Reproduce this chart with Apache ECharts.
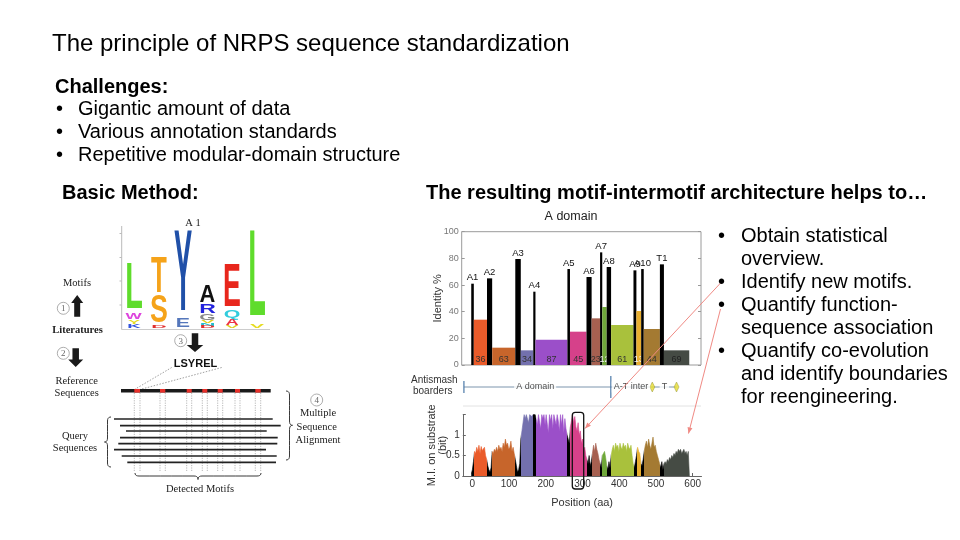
<!DOCTYPE html>
<html><head><meta charset="utf-8">
<script src="https://cdn.jsdelivr.net/npm/echarts@6/dist/echarts.min.js"></script>
<style>html,body{margin:0;padding:0;background:#fff}#c{width:960px;height:540px}</style>
</head><body><div id="c"></div>
<script>
// ---------------- DATA ----------------
const motifNames    = ['A1','A2','A3','A4','A5','A6','A7','A8','A9','A10','T1'];
const motifLengths  = [7, 14, 15, 6, 7, 14, 6, 12, 8, 7, 11];
const motifIdentity = [61, 65, 79.5, 55, 72, 66, 84.5, 73.5, 71, 72, 75.5];
const interLengths  = [36, 63, 34, 87, 45, 23, 12, 61, 13, 44, 69];
const interIdentity = [34, 13, 11, 19, 25, 35, 43.5, 30, 40.5, 27, 11];
const startPosition = -3;
const identityTicks = [0, 20, 40, 60, 80, 100];
const positionTicks = [0, 100, 200, 300, 400, 500, 600];
const miTicks = [0, 0.5, 1];
// M.I. on substrate (bit), sampled every 3 aa from position -3
const miStart = -3, miStep = 3;
const miValues = [
 0.05,0.15,0.35,0.6,0.55,0.7,0.6,0.75,0.55,0.72,0.62,0.6,0.7,0.5,0.4,
 0.25,0.15,0.1,0.2,
 0.6,0.55,0.65,0.6,0.7,0.6,0.75,0.65,0.7,0.6,0.8,0.7,0.9,0.75,0.8,0.65,0.7,0.85,0.6,0.7,0.55,
 0.4,0.25,0.1,0.15,0.3,
 0.9,1.1,1.3,1.5,1.4,1.5,1.5,1.3,1.5,1.5,1.45,1.5,
 1.5,1.5,
 1.5,1.25,1.5,1.5,1.15,1.5,1.4,1.5,1.25,1.5,1.5,1.05,1.5,1.35,1.5,1.15,1.5,1.5,1.25,1.5,1.35,1.1,1.5,1.25,1.5,1.05,1.4,1.15,1.0,
 0.9,0.8,
 1.2,1.35,1.5,1.3,1.45,1.2,1.1,1.3,1.0,1.1,0.8,0.9,0.6,0.7,0.5,
 0.4,0.3,0.5,0.25,0.35,
 0.55,0.75,0.6,0.8,0.65,0.55,0.4,
 0.3,0.2,
 0.5,0.55,0.6,0.45,
 0.25,0.15,0.35,0.2,
 0.5,0.65,0.75,0.6,0.8,0.7,0.75,0.6,0.8,0.7,0.65,0.8,0.7,0.75,0.6,0.8,0.7,0.65,0.75,0.5,0.3,
 0.2,0.35,
 0.5,0.7,0.6,0.55,0.3,
 0.25,0.4,
 0.6,0.75,0.85,0.7,0.9,0.75,0.65,0.8,0.95,0.7,0.75,0.6,0.5,0.4,0.3,
 0.2,0.35,0.15,
 0.3,0.35,0.3,0.4,0.35,0.45,0.4,0.5,0.45,0.55,0.5,0.6,0.55,0.65,0.6,0.65,0.55,0.6,0.65,0.55,0.6,0.5,0.6,0
];
const borderPos    = [-23, 377, 490, 556];
const borderLabels = ['A domain', 'A-T inter', 'T'];
const borderLabelPos = [171, 432, 523];

// ---------------- STYLE ----------------
const interColors = ['#ea5b2a','#c7652b','#7370ae','#9b4fc9','#d6418a','#a66050','#6fa83a','#a9c13c','#e8ae30','#a47a32','#454b44'];
const interLabelColors = ['#333','#333','#333','#333','#333','#333','#f4f4f4','#333','#f4f4f4','#333','#222'];
const SANS = '"Liberation Sans", Arial, sans-serif';
const SERIF = '"Liberation Serif", "Times New Roman", serif';

// ---------------- BUILD ----------------
const segs = [];
let pos = startPosition;
for (let i = 0; i < motifNames.length; i++) {
  segs.push([pos, pos + motifLengths[i], motifIdentity[i], i, 0]);
  pos += motifLengths[i];
  segs.push([pos, pos + interLengths[i], interIdentity[i], i, 1]);
  pos += interLengths[i];
}
const miData = miValues.map((v, i) => [miStart + i * miStep, v]);
const pieces = segs.map((s, k) => {
  const p = { gte: s[0], color: s[4] ? interColors[s[3]] : '#000' };
  if (k === segs.length - 1) p.lte = s[1] + 5; else p.lt = s[1];
  return p;
});

function T(x, y, text, size, o) {
  o = o || {};
  const al = o.align || 'left';
  return { type: 'text', x: x, y: y, z: 20, silent: true,
    style: { text: text, fill: o.color || '#000',
      font: (o.bold ? 'bold ' : '') + size + 'px ' + (o.family || SANS),
      align: al, textAlign: al, verticalAlign: 'middle', textVerticalAlign: 'middle' } };
}
const inkW = { L: 52, T: 58, S: 58, Y: 66, A: 71, R: 63, G: 67, E: 56, Q: 70, W: 93, K: 64, D: 61, V: 66, N: 60 };
function letter(ch, cx, top, bottom, w, color) {
  const sy = (bottom - top) / 71.6, sx = w / inkW[ch];
  return { type: 'text', x: cx, y: (top + bottom) / 2 + 1.15 * sy, scaleX: sx, scaleY: sy, z: 15, silent: true,
    style: { text: ch, fill: color, font: 'bold 100px ' + SANS, align: 'center', textAlign: 'center', verticalAlign: 'middle', textVerticalAlign: 'middle' } };
}
function L(x1, y1, x2, y2, color, w, dash) {
  return { type: 'line', z: 12, silent: true, shape: { x1, y1, x2, y2 }, style: { stroke: color, lineWidth: w || 1, lineDash: dash || null } };
}
function arrowHead(x1, y1, x2, y2, color) {
  const dx = x2 - x1, dy = y2 - y1, len = Math.hypot(dx, dy), ux = dx / len, uy = dy / len;
  const bx = x2 - ux * 6, by = y2 - uy * 6;
  return { type: 'polygon', z: 12, silent: true, shape: { points: [[x2, y2], [bx - uy * 2.5, by + ux * 2.5], [bx + uy * 2.5, by - ux * 2.5]] }, style: { fill: color } };
}
function circNum(x, y, n) {
  return [{ type: 'circle', z: 14, silent: true, shape: { cx: x, cy: y, r: 6 }, style: { fill: '#fff', stroke: '#999', lineWidth: 0.8 } },
          T(x, y + 0.5, String(n), 9, { align: 'center', color: '#666', family: SERIF })];
}
function blockArrow(cx, yTop, yBot, up, shaftW, headW, headH) {
  let pts;
  if (up) pts = [[cx, yTop], [cx + headW / 2, yTop + headH], [cx + shaftW / 2, yTop + headH], [cx + shaftW / 2, yBot], [cx - shaftW / 2, yBot], [cx - shaftW / 2, yTop + headH], [cx - headW / 2, yTop + headH]];
  else pts = [[cx, yBot], [cx + headW / 2, yBot - headH], [cx + shaftW / 2, yBot - headH], [cx + shaftW / 2, yTop], [cx - shaftW / 2, yTop], [cx - shaftW / 2, yBot - headH], [cx - headW / 2, yBot - headH]];
  return { type: 'polygon', z: 12, silent: true, shape: { points: pts }, style: { fill: '#1a1a1a' } };
}
function qpts(p0, c, p1, out) {
  for (let t = 0; t <= 1.0001; t += 0.2) {
    const a = (1 - t) * (1 - t), b = 2 * (1 - t) * t, d = t * t;
    out.push([a * p0[0] + b * c[0] + d * p1[0], a * p0[1] + b * c[1] + d * p1[1]]);
  }
}
function brace(segments) {
  const pts = [];
  segments.forEach(s => qpts(s[0], s[1], s[2], pts));
  return { type: 'polyline', z: 12, silent: true, shape: { points: pts }, style: { fill: null, stroke: '#222', lineWidth: 0.9 } };
}

const G = [];
// slide texts
G.push(T(52, 44, 'The principle of NRPS sequence standardization', 24));
G.push(T(55, 87, 'Challenges:', 20, { bold: true }));
['Gigantic amount of data', 'Various annotation standards', 'Repetitive modular-domain structure'].forEach((s, i) => {
  G.push(T(56, 109 + 23 * i, '•', 20)); G.push(T(78, 109 + 23 * i, s, 20));
});
G.push(T(62, 193, 'Basic Method:', 20, { bold: true }));
G.push(T(426, 193, 'The resulting motif-intermotif architecture helps to…', 20, { bold: true }));
const rightLines = [['•', 'Obtain statistical'], ['', 'overview.'], ['•', 'Identify new motifs.'], ['•', 'Quantify function-'], ['', 'sequence association'], ['•', 'Quantify co-evolution'], ['', 'and identify boundaries'], ['', 'for reengineering.']];
rightLines.forEach((r, i) => { if (r[0]) G.push(T(718, 236 + 23 * i, '•', 20)); G.push(T(741, 236 + 23 * i, r[1], 20)); });

// chart decorations
G.push(T(571, 217, 'A domain', 12.5, { align: 'center', color: '#222' }));
G.push(T(411, 380, 'Antismash', 10, { color: '#333' }));
G.push(T(413, 391.5, 'boarders', 10, { color: '#333' }));
G.push(L(463, 406, 701, 406, '#e2e2e2', 1));
G.push({ type: 'rect', z: 13, silent: true, shape: { x: 572.3, y: 412.3, width: 11.4, height: 76.7, r: 3 }, style: { fill: null, stroke: '#111', lineWidth: 1.3 } });
const red = '#f08a84';
G.push(L(721.5, 282, 585, 428.5, red, 1)); G.push(arrowHead(721.5, 282, 585, 428.5, red));
G.push(L(720.5, 309, 688.5, 433.5, red, 1)); G.push(arrowHead(720.5, 309, 688.5, 433.5, red));

// left diagram: sequence logo
G.push(T(193, 223, 'A 1', 10.5, { align: 'center', family: SERIF, color: '#222' }));
G.push(L(121.7, 226, 121.7, 329.5, '#bbb', 1));
G.push(L(121.7, 329.5, 270, 329.5, '#ccc', 1));
[233.5, 257.5, 281, 305].forEach(y => G.push(L(119.5, y, 121.7, y, '#bbb', 1)));
[
 ['L', 134, 266, 313, 15, '#5fdc2c'], ['W', 133.5, 314, 320, 16, '#dd44dd'], ['Y', 134, 320.5, 324, 12, '#e6dc22'], ['K', 134, 324.5, 328, 12, '#3355dd'],
 ['T', 159, 260, 296, 15, '#f5a31a'], ['S', 159, 297, 325, 15.5, '#f5a31a'], ['D', 159, 325.5, 328, 13, '#e03030'],
 ['Y', 183, 236, 318, 18, '#2050a8'], ['E', 183, 318.5, 327.5, 12, '#5577bb'],
 ['A', 207.5, 287, 304, 15.5, '#111'], ['R', 207.5, 304.5, 313.5, 14.5, '#2222dd'], ['G', 207.5, 314, 320.5, 14, '#888'],
 ['V', 207.5, 321, 323.5, 13, '#e0d020'], ['N', 207.5, 324, 326, 13, '#20c0d0'], ['D', 207.5, 326.3, 328.3, 13, '#e03030'],
 ['E', 232, 266, 310, 15, '#e8261c'], ['Q', 232, 310.5, 318.5, 15, '#33ccdd'], ['A', 232, 319, 326, 13, '#ee3344'], ['V', 232, 326.5, 328.5, 13, '#e0d020'],
 ['L', 257, 236.7, 324, 15, '#5fdc2c'], ['V', 257, 324.5, 328, 14, '#e6dc22']
].forEach(a => G.push(letter(a[0], a[1], a[2], a[3], a[4], a[5])));

G.push(T(77, 283.5, 'Motifs', 10.5, { align: 'center', family: SERIF, color: '#222' }));
G.push(blockArrow(77.2, 295, 316.7, true, 6, 12, 8));
G.push(T(77.5, 330.5, 'Literatures', 10.5, { align: 'center', family: SERIF, bold: true, color: '#222' }));
G.push(blockArrow(75.7, 348.3, 367, false, 6.5, 15, 7.5));
G.push(T(76.7, 381.7, 'Reference', 10.5, { align: 'center', family: SERIF, color: '#222' }));
G.push(T(76.7, 393.5, 'Sequences', 10.5, { align: 'center', family: SERIF, color: '#222' }));
G.push(T(75, 436, 'Query', 10.5, { align: 'center', family: SERIF, color: '#222' }));
G.push(T(75, 448.5, 'Sequences', 10.5, { align: 'center', family: SERIF, color: '#222' }));
G.push(blockArrow(195, 333.3, 352, false, 6.5, 16.5, 7));
G.push(T(195.5, 363.5, 'LSYREL', 11, { align: 'center', bold: true, color: '#111' }));
circNum(63.3, 308.3, 1).forEach(e => G.push(e));
circNum(63.3, 353.3, 2).forEach(e => G.push(e));
circNum(180.7, 340.7, 3).forEach(e => G.push(e));
circNum(316.7, 400, 4).forEach(e => G.push(e));
G.push(T(318, 413.3, 'Multiple', 10.5, { align: 'center', family: SERIF, color: '#222' }));
G.push(T(316.7, 427.5, 'Sequence', 10.5, { align: 'center', family: SERIF, color: '#222' }));
G.push(T(318, 440.7, 'Alignment', 10.5, { align: 'center', family: SERIF, color: '#222' }));
G.push(T(200, 489.5, 'Detected Motifs', 10.5, { align: 'center', family: SERIF, color: '#222' }));
G.push(L(171.7, 367.5, 134.5, 389.5, '#888', 0.8, [1.5, 1.5]));
G.push(L(221.7, 367.5, 140, 389.5, '#888', 0.8, [1.5, 1.5]));
G.push({ type: 'rect', z: 12, silent: true, shape: { x: 121, y: 389, width: 149.7, height: 3.6 }, style: { fill: '#1a1a1a' } });
const redMarks = [[134.3, 140], [160, 165.3], [186.7, 191.7], [202.3, 207.3], [217.7, 222.7], [235, 240], [255.3, 260.7]];
redMarks.forEach(m => {
  G.push({ type: 'rect', z: 13, silent: true, shape: { x: m[0], y: 389, width: m[1] - m[0], height: 3.6 }, style: { fill: '#e8302a' } });
  G.push(L(m[0], 393, m[0], 472, '#999', 0.7, [1.2, 1.2]));
  G.push(L(m[1], 393, m[1], 472, '#999', 0.7, [1.2, 1.2]));
});
[[419, 114, 272.7], [425.7, 120, 280.7], [431, 126, 266.7], [437.7, 120, 277.7], [443.7, 118.3, 277.3], [449.7, 114, 266], [456, 121.7, 276.7], [462.3, 127.3, 276]]
  .forEach(q => G.push(L(q[1], q[0], q[2], q[0], '#222', 1.7)));
G.push(brace([[[111, 417], [107.5, 417], [107.5, 421]], [[107.5, 421], [107.5, 430], [107.5, 438]], [[107.5, 438], [107.5, 442], [104.5, 442]],
              [[104.5, 442], [107.5, 442], [107.5, 446]], [[107.5, 446], [107.5, 455], [107.5, 463]], [[107.5, 463], [107.5, 467], [111, 467]]]));
G.push(brace([[[286, 391], [289.5, 391], [289.5, 395]], [[289.5, 395], [289.5, 408], [289.5, 421]], [[289.5, 421], [289.5, 425.3], [292.5, 425.3]],
              [[292.5, 425.3], [289.5, 425.3], [289.5, 429.6]], [[289.5, 429.6], [289.5, 443], [289.5, 456]], [[289.5, 456], [289.5, 460], [286, 460]]]));
G.push(brace([[[135, 473], [135, 476], [139, 476]], [[139, 476], [166, 476], [194, 476]], [[194, 476], [198, 476], [198, 479.5]],
              [[198, 479.5], [198, 476], [202, 476]], [[202, 476], [230, 476], [257, 476]], [[257, 476], [261, 476], [261, 473]]]));

// ---------------- OPTION ----------------
const option = {
  animation: false,
  backgroundColor: '#fff',
  grid: [
    { left: 461.7, top: 231.7, width: 239.3, height: 133.3, show: true, borderColor: '#9a9a9a', borderWidth: 1, containLabel: false },
    { left: 462.8, top: 380, width: 238.7, height: 14, containLabel: false },
    { left: 462.8, top: 414.5, width: 238.7, height: 61.5, containLabel: false }
  ],
  xAxis: [
    { gridIndex: 0, type: 'value', min: -29, max: 623, show: false },
    { gridIndex: 1, type: 'value', min: -26, max: 624, show: false },
    { gridIndex: 2, type: 'value', min: -26, max: 624,
      axisLine: { show: true, onZero: false, lineStyle: { color: '#666', width: 1 } },
      axisTick: { show: true, inside: true, length: 3, customValues: positionTicks, lineStyle: { color: '#666' } },
      axisLabel: { show: true, customValues: positionTicks, fontSize: 10, color: '#333', margin: 3, fontFamily: SANS },
      splitLine: { show: false },
      name: 'Position (aa)', nameLocation: 'middle', nameGap: 21, nameTextStyle: { fontSize: 11, color: '#333', fontFamily: SANS } }
  ],
  yAxis: [
    { gridIndex: 0, type: 'value', min: 0, max: 100, interval: 20,
      axisLine: { show: false, onZero: false }, axisTick: { show: true, inside: true, length: 3, lineStyle: { color: '#999' } },
      axisLabel: { fontSize: 9, color: '#777', margin: 3, fontFamily: SANS }, splitLine: { show: false },
      name: 'Identity %', nameLocation: 'middle', nameGap: 18, nameMoveOverlap: false,
      nameTextStyle: { fontSize: 11, color: '#333', fontFamily: SANS } },
    { gridIndex: 0, type: 'value', min: 0, max: 100, interval: 20, position: 'right',
      axisLine: { show: false, onZero: false }, axisTick: { show: true, inside: true, length: 3, lineStyle: { color: '#999' } },
      axisLabel: { show: false }, splitLine: { show: false } },
    { gridIndex: 1, type: 'value', min: -1, max: 1, show: false },
    { gridIndex: 2, type: 'value', min: 0, max: 1.5, interval: 0.5,
      axisLine: { show: true, onZero: false, lineStyle: { color: '#666' } }, axisTick: { show: true, inside: true, length: 3, lineStyle: { color: '#666' } },
      axisLabel: { fontSize: 10, color: '#333', margin: 3, fontFamily: SANS, formatter: v => (miTicks.indexOf(v) >= 0 ? String(v) : '') },
      splitLine: { show: false },
      name: 'M.I. on substrate\n(bit)', nameLocation: 'middle', nameGap: 15, nameMoveOverlap: false,
      nameTextStyle: { fontSize: 11, color: '#333', lineHeight: 10.5, fontFamily: SANS } }
  ],
  visualMap: [{ type: 'piecewise', show: false, seriesIndex: 4, dimension: 0, pieces: pieces }],
  series: [
    { type: 'custom', xAxisIndex: 0, yAxisIndex: 0, data: segs, clip: false,
      renderItem: function (params, api) {
        const x0 = api.value(0), x1 = api.value(1), h = api.value(2), i = api.value(3), k = api.value(4);
        const p0 = api.coord([x0, h]), p1 = api.coord([x1, 0]);
        const rect = { type: 'rect', shape: { x: p0[0], y: p0[1], width: p1[0] - p0[0], height: p1[1] - p0[1] }, style: { fill: k ? interColors[i] : '#000' } };
        const cx = (p0[0] + p1[0]) / 2;
        const lab = k
          ? { type: 'text', x: cx, y: p1[1] - 5, style: { text: String(interLengths[i]), fill: interLabelColors[i], font: '9px ' + SANS, align: 'center', textAlign: 'center', verticalAlign: 'middle', textVerticalAlign: 'middle' } }
          : { type: 'text', x: cx, y: p0[1] - 1, style: { text: motifNames[i], fill: '#111', font: '9.5px ' + SANS, align: 'center', textAlign: 'center', verticalAlign: 'bottom', textVerticalAlign: 'bottom' } };
        return { type: 'group', children: [rect, lab] };
      } },
    { type: 'line', xAxisIndex: 1, yAxisIndex: 2, symbol: 'none', silent: true,
      data: [[borderPos[0], 0], [borderPos[borderPos.length - 1], 0]], lineStyle: { color: '#7d95ad', width: 1 } },
    { type: 'scatter', xAxisIndex: 1, yAxisIndex: 2, silent: true, z: 4,
      data: borderPos.map((p, i) => ({ value: [p, 0],
        symbol: i < 2 ? 'rect' : 'diamond',
        symbolSize: i === 0 ? [1.5, 12] : i === 1 ? [1.5, 22] : [5, 10],
        itemStyle: i < 2 ? { color: '#4a78a8' } : { color: '#e6dc30', borderColor: '#8a8a30', borderWidth: 0.5 } })) },
    { type: 'scatter', xAxisIndex: 1, yAxisIndex: 2, silent: true, z: 5, symbolSize: 0.1, itemStyle: { color: '#fff' },
      data: borderLabelPos.map((p, i) => ({ value: [p, 0], name: borderLabels[i] })),
      label: { show: true, position: 'inside', formatter: '{b}', fontSize: 9, color: '#222', fontFamily: SANS, backgroundColor: '#fff', padding: [1, 2] } },
    { type: 'line', xAxisIndex: 2, yAxisIndex: 3, symbol: 'none', silent: true, data: miData,
      lineStyle: { width: 0.6 }, areaStyle: { opacity: 1 } }
  ],
  graphic: { elements: G }
};
const chart = echarts.init(document.getElementById('c'), null, { renderer: 'canvas' });
chart.setOption(option);
</script></body></html>
